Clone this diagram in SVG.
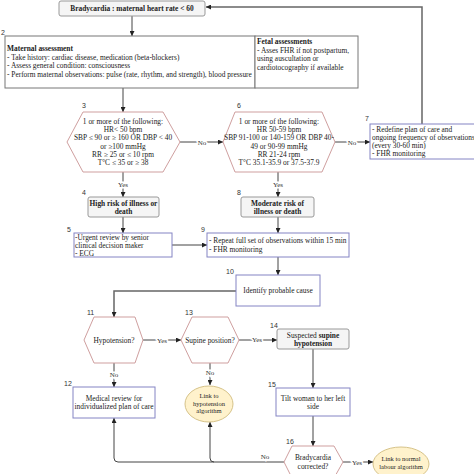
<svg xmlns="http://www.w3.org/2000/svg" width="474" height="474" viewBox="0 0 474 474">
<style>
  text { font-family: "Liberation Serif", "Times New Roman", serif; font-size: 7.4px; fill: #222; }
  .b { font-weight: bold; }
  .c { text-anchor: middle; }
  .num { font-family: "Liberation Sans", Arial, sans-serif; font-size: 7px; fill: #333; }
  .lbl { text-anchor: middle; paint-order: stroke; stroke: #fff; stroke-width: 3px; font-size: 7px; fill: #333; }
  .sm { font-size: 6.5px; }
  .box { fill: #fff; stroke: #8484c4; stroke-width: 1; }
  .gray { fill: #f5f5f5; stroke: #999; stroke-width: 1; }
  .plain { fill: #fff; stroke: #777; stroke-width: 1; }
  .hex { fill: #fff; stroke: #cf9f9f; stroke-width: 1; }
  .ell { fill: #fff2cc; stroke: #d6c38a; stroke-width: 1; }
  .con { fill: none; stroke: #444; stroke-width: 1; }
  .thick { fill: none; stroke: #666; stroke-width: 1.5; }
</style>
<defs>
  <marker id="ar" viewBox="0 0 8 8" refX="8" refY="4" markerWidth="5" markerHeight="5" orient="auto" markerUnits="userSpaceOnUse">
    <path d="M0,0 L8,4 L0,8 z" fill="#222"/>
  </marker>
</defs>
<rect width="474" height="474" fill="#fff"/>

<g id="connectors">
  <path class="con" d="M132,16 V36" marker-end="url(#ar)"/>
  <path class="con" d="M123,88 V112" marker-end="url(#ar)"/>
  <path class="thick" d="M422,124 V7 H206" marker-end="url(#ar)"/>
  <path class="con" d="M180,142 H223" marker-end="url(#ar)"/>
  <path class="con" d="M335,142 H370" marker-end="url(#ar)"/>
  <path class="con" d="M123,172 V197" marker-end="url(#ar)"/>
  <path class="con" d="M278,172 V197" marker-end="url(#ar)"/>
  <path class="con" d="M123,217 V233" marker-end="url(#ar)"/>
  <path class="con" d="M278,217 V233" marker-end="url(#ar)"/>
  <path class="con" d="M172,245 H207" marker-end="url(#ar)"/>
  <path class="con" d="M278,257 V275" marker-end="url(#ar)"/>
  <path class="thick" d="M236,291 H114 V317" marker-end="url(#ar)"/>
  <path class="con" d="M143,340 H181" marker-end="url(#ar)"/>
  <path class="con" d="M114,363 V387" marker-end="url(#ar)"/>
  <path class="con" d="M239,340 H277" marker-end="url(#ar)"/>
  <path class="con" d="M210,363 V385" marker-end="url(#ar)"/>
  <path class="con" d="M313,349 V388" marker-end="url(#ar)"/>
  <path class="con" d="M313,416 V446" marker-end="url(#ar)"/>
  <path class="con" d="M343,462 H373" marker-end="url(#ar)"/>
  <path class="con" d="M284,462 H118 Q114,462 114,458 V418" marker-end="url(#ar)"/>
  <path class="con" d="M214,462 Q210,462 210,458 V422" marker-end="url(#ar)"/>
  <text class="lbl" x="202" y="144.5">No</text>
  <text class="lbl" x="352" y="144.5">No</text>
  <text class="lbl" x="123" y="187">Yes</text>
  <text class="lbl" x="278" y="187">Yes</text>
  <text class="lbl" x="162" y="342.5">Yes</text>
  <text class="lbl" x="114" y="377">No</text>
  <text class="lbl" x="257" y="342">Yes</text>
  <text class="lbl" x="210" y="375">No</text>
  <text class="lbl" x="357" y="464.5">Yes</text>
  <text class="lbl" x="265" y="459">No</text>
</g>

<g id="n1">
  <rect class="gray" x="59" y="1" width="146" height="15" rx="2"/>
  <text class="b c" x="132" y="11">Bradycardia : maternal heart rate &lt; 60</text>
</g>

<g id="n2">
  <rect class="plain" x="5" y="36" width="250" height="52"/>
  <text class="num" x="1" y="35">2</text>
  <text class="b" x="7" y="51">Maternal assessment</text>
  <text x="7" y="59.5">- Take history: cardiac disease, medication (beta-blockers)</text>
  <text x="7" y="68">- Assess general condition: consciousness</text>
  <text x="7" y="76.5">- Perform maternal observations: pulse (rate, rhythm, and strength), blood pressure</text>
</g>

<g id="n2b">
  <rect class="plain" x="255" y="36" width="103" height="52"/>
  <text class="b" x="257" y="44">Fetal assessments</text>
  <text x="257" y="52.5">- Asses FHR if not postpartum,</text>
  <text x="257" y="61">using auscultation or</text>
  <text x="257" y="69.5">cardiotocography if available</text>
</g>

<g id="n3">
  <polygon class="hex" points="83,112 163,112 180,142 163,172 83,172 67,142"/>
  <text class="num" x="82" y="108">3</text>
  <text class="c" x="123" y="124">1 or more of the following:</text>
  <text class="c" x="123" y="132.2">HR&lt; 50 bpm</text>
  <text class="c" x="123" y="140.4">SBP ≤ 90 or ≥ 160 OR DBP &lt; 40</text>
  <text class="c" x="123" y="148.6">or ≥100 mmHg</text>
  <text class="c" x="123" y="156.8">RR ≥ 25 or ≤ 10 rpm</text>
  <text class="c" x="123" y="165">T°C ≤ 35 or ≥ 38</text>
</g>

<g id="n6">
  <polygon class="hex" points="235,112 322,112 335,142 322,172 235,172 223,142"/>
  <text class="num" x="237" y="108">6</text>
  <text class="c" x="279" y="124">1 or more of the following:</text>
  <text class="c" x="279" y="132.2">HR 50-59 bpm</text>
  <text class="c" x="279" y="140.4">SBP 91-100 or 140-159 OR DBP 40-</text>
  <text class="c" x="279" y="148.6">49 or 90-99 mmHg</text>
  <text class="c" x="279" y="156.8">RR 21-24 rpm</text>
  <text class="c" x="279" y="165">T°C 35.1-35.9 or 37.5-37.9</text>
</g>

<g id="n7">
  <rect class="box" x="370" y="124" width="110" height="35"/>
  <text class="num" x="365" y="121">7</text>
  <text x="372" y="131.5">- Redefine plan of care and</text>
  <text x="372" y="139.5">ongoing frequency of observations</text>
  <text x="372" y="147.5">(every 30-60 min)</text>
  <text x="372" y="155.5">- FHR monitoring</text>
</g>

<g id="n4">
  <rect class="gray" x="88" y="197" width="71" height="20" rx="2"/>
  <text class="num" x="82" y="195">4</text>
  <text class="b c" x="123.5" y="205.5">High risk of illness or</text>
  <text class="b c" x="123.5" y="214">death</text>
</g>

<g id="n8">
  <rect class="gray" x="241" y="197" width="73" height="20" rx="2"/>
  <text class="num" x="237" y="195">8</text>
  <text class="b c" x="277.5" y="205.5">Moderate risk of</text>
  <text class="b c" x="277.5" y="214">illness or death</text>
</g>

<g id="n5">
  <rect class="box" x="74" y="233" width="98" height="24"/>
  <text class="num" x="67" y="232">5</text>
  <text x="75" y="239.5">-Urgent review by senior</text>
  <text x="75" y="247.5">clinical decision maker</text>
  <text x="75" y="255.5">- ECG</text>
</g>

<g id="n9">
  <rect class="box" x="207" y="233" width="142" height="24"/>
  <text class="num" x="201" y="232">9</text>
  <text x="209" y="243">- Repeat full set of observations within 15 min</text>
  <text x="209" y="251.5">- FHR monitoring</text>
</g>

<g id="n10">
  <rect class="box" x="236" y="275" width="84" height="31"/>
  <text class="num" x="226" y="274">10</text>
  <text class="c" x="278" y="293">Identify probable cause</text>
</g>

<g id="n11">
  <polygon class="hex" points="94,317 135,317 143,340 135,363 94,363 84,340"/>
  <text class="num" x="87" y="315">11</text>
  <text class="c" x="114" y="342.5">Hypotension?</text>
</g>

<g id="n12">
  <rect class="box" x="73" y="387" width="82" height="31"/>
  <text class="num" x="64" y="386">12</text>
  <text class="c" x="114" y="400.5">Medical review for</text>
  <text class="c" x="114" y="409">individualized plan of care</text>
</g>

<g id="n13">
  <polygon class="hex" points="192,317 228,317 239,340 228,363 192,363 181,340"/>
  <text class="num" x="185" y="315">13</text>
  <text class="c" x="210" y="342.5">Supine position?</text>
</g>

<g id="n13b">
  <ellipse class="ell" cx="209" cy="404" rx="24" ry="18"/>
  <text class="c sm" x="209" y="398">Link to</text>
  <text class="c sm" x="209" y="405.5">hypotension</text>
  <text class="c sm" x="209" y="413">algorithm</text>
</g>

<g id="n14">
  <rect class="gray" x="277" y="329" width="72" height="20" rx="2"/>
  <text class="num" x="270" y="328">14</text>
  <text class="c" x="313" y="337.5">Suspected <tspan class="b">supine</tspan></text>
  <text class="b c" x="313" y="346">hypotension</text>
</g>

<g id="n15">
  <rect class="box" x="276" y="388" width="74" height="28"/>
  <text class="num" x="268" y="387">15</text>
  <text class="c" x="313" y="400.5">Tilt woman to her left</text>
  <text class="c" x="313" y="409">side</text>
</g>

<g id="n16">
  <polygon class="hex" points="292,446 334,446 343,462 334,478 292,478 284,462"/>
  <text class="num" x="286" y="444">16</text>
  <text class="c" x="313" y="460">Bradycardia</text>
  <text class="c" x="313" y="469">corrected?</text>
</g>

<g id="n17">
  <ellipse class="ell" cx="401" cy="464" rx="28" ry="17"/>
  <text class="c sm" x="401" y="461">Link to normal</text>
  <text class="c sm" x="401" y="469">labour algorithm</text>
</g>
</svg>
